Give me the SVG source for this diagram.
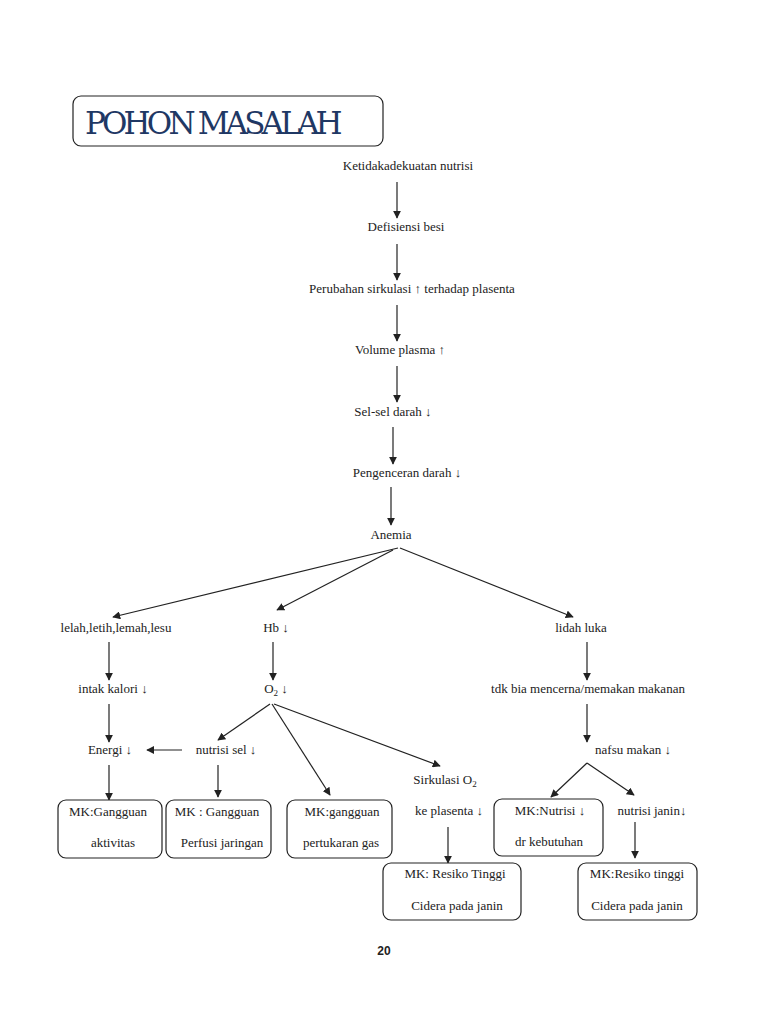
<svg xmlns="http://www.w3.org/2000/svg" width="768" height="1024" viewBox="0 0 768 1024">
<style>
text{font-family:"Liberation Serif",serif;font-size:13px;fill:#222}
.c{text-anchor:middle}
.b{fill:#fff;stroke:#222;stroke-width:1.2}
line{stroke:#222;stroke-width:1.2;marker-end:url(#a)}
</style>
<defs><marker id="a" viewBox="0 0 10 10" refX="9" refY="5" markerWidth="8" markerHeight="8" markerUnits="userSpaceOnUse" orient="auto"><path d="M0,0L10,5L0,10z" fill="#222"/></marker></defs>
<rect width="768" height="1024" fill="#fff"/>
<g id="title"><rect class="b" x="73" y="96" width="310" height="50" rx="8"/><text x="85" y="134" style="font-size:31px;fill:#1f3864;font-family:'DejaVu Serif',serif;letter-spacing:0.5px" textLength="258">POHON MASALAH</text></g>
<g id="connectors">
<line x1="397" y1="182" x2="397" y2="218"/>
<line x1="397" y1="244" x2="397" y2="280"/>
<line x1="397" y1="305" x2="397" y2="341"/>
<line x1="397" y1="366" x2="397" y2="402"/>
<line x1="393" y1="427" x2="393" y2="464"/>
<line x1="391" y1="487" x2="391" y2="525"/>
<line x1="398" y1="548" x2="113" y2="617"/>
<line x1="393" y1="550" x2="277" y2="610"/>
<line x1="400" y1="548" x2="573" y2="617"/>
<line x1="109" y1="642" x2="109" y2="680"/>
<line x1="273" y1="642" x2="273" y2="680"/>
<line x1="587" y1="642" x2="587" y2="680"/>
<line x1="109" y1="704" x2="109" y2="742"/>
<line x1="270" y1="704" x2="218" y2="740"/>
<line x1="272" y1="704" x2="330" y2="795"/>
<line x1="274" y1="704" x2="440" y2="766"/>
<line x1="587" y1="704" x2="587" y2="742"/>
<line x1="182" y1="750" x2="147" y2="750"/>
<line x1="109" y1="765" x2="109" y2="800"/>
<line x1="218" y1="765" x2="218" y2="797"/>
<line x1="587" y1="763" x2="551" y2="797"/>
<line x1="587" y1="763" x2="634" y2="795"/>
<line x1="448" y1="827" x2="448" y2="863"/>
<line x1="635" y1="822" x2="635" y2="858"/>
</g>
<g id="n1"><text class="c" x="408" y="170">Ketidakadekuatan nutrisi</text></g>
<g id="n2"><text class="c" x="406" y="231">Defisiensi besi</text></g>
<g id="n3"><text class="c" x="412" y="293">Perubahan sirkulasi ↑ terhadap plasenta</text></g>
<g id="n4"><text class="c" x="400" y="354">Volume plasma ↑</text></g>
<g id="n5"><text class="c" x="393" y="416">Sel-sel darah ↓</text></g>
<g id="n6"><text class="c" x="407" y="477">Pengenceran darah ↓</text></g>
<g id="n7"><text class="c" x="391" y="539">Anemia</text></g>
<g id="n8"><text class="c" x="116" y="632">lelah,letih,lemah,lesu</text></g>
<g id="n9"><text class="c" x="276" y="632">Hb ↓</text></g>
<g id="n10"><text class="c" x="581" y="632">lidah luka</text></g>
<g id="n11"><text class="c" x="113" y="693">intak kalori ↓</text></g>
<g id="n12"><text class="c" x="276" y="693">O<tspan font-size="9" dy="3">2</tspan><tspan dy="-3"> ↓</tspan></text></g>
<g id="n13"><text class="c" x="588" y="693">tdk bia mencerna/memakan makanan</text></g>
<g id="n14"><text class="c" x="110" y="754">Energi ↓</text></g>
<g id="n15"><text class="c" x="226" y="754">nutrisi sel  ↓</text></g>
<g id="n16"><text class="c" x="633" y="754">nafsu makan ↓</text></g>
<g id="n17"><text class="c" x="445" y="784">Sirkulasi O<tspan font-size="9" dy="3">2</tspan></text><text class="c" x="449" y="815">ke plasenta ↓</text></g>
<g id="n18"><text class="c" x="652" y="815">nutrisi janin↓</text></g>
<g id="b1"><rect class="b" x="58" y="800" width="104" height="58" rx="8"/><text class="c" x="108" y="816">MK:Gangguan</text><text class="c" x="113" y="847">aktivitas</text></g>
<g id="b2"><rect class="b" x="166" y="800" width="105" height="58" rx="8"/><text class="c" x="217" y="816">MK : Gangguan</text><text class="c" x="222" y="847">Perfusi jaringan</text></g>
<g id="b3"><rect class="b" x="287" y="800" width="105" height="58" rx="8"/><text class="c" x="342" y="816">MK:gangguan</text><text class="c" x="341" y="847">pertukaran gas</text></g>
<g id="b4"><rect class="b" x="494" y="799" width="109" height="57" rx="8"/><text class="c" x="550" y="815">MK:Nutrisi ↓</text><text class="c" x="549" y="846">dr kebutuhan</text></g>
<g id="b5"><rect class="b" x="383" y="863" width="138" height="57" rx="8"/><text class="c" x="455" y="878">MK:  Resiko Tinggi</text><text class="c" x="457" y="910">Cidera pada janin</text></g>
<g id="b6"><rect class="b" x="578" y="863" width="119" height="57" rx="8"/><text class="c" x="637" y="878">MK:Resiko tinggi</text><text class="c" x="637" y="910">Cidera pada janin</text></g>
<text class="c" x="384" y="955" style="font-weight:bold;font-size:12px;font-family:'Liberation Sans',sans-serif">20</text>
</svg>
